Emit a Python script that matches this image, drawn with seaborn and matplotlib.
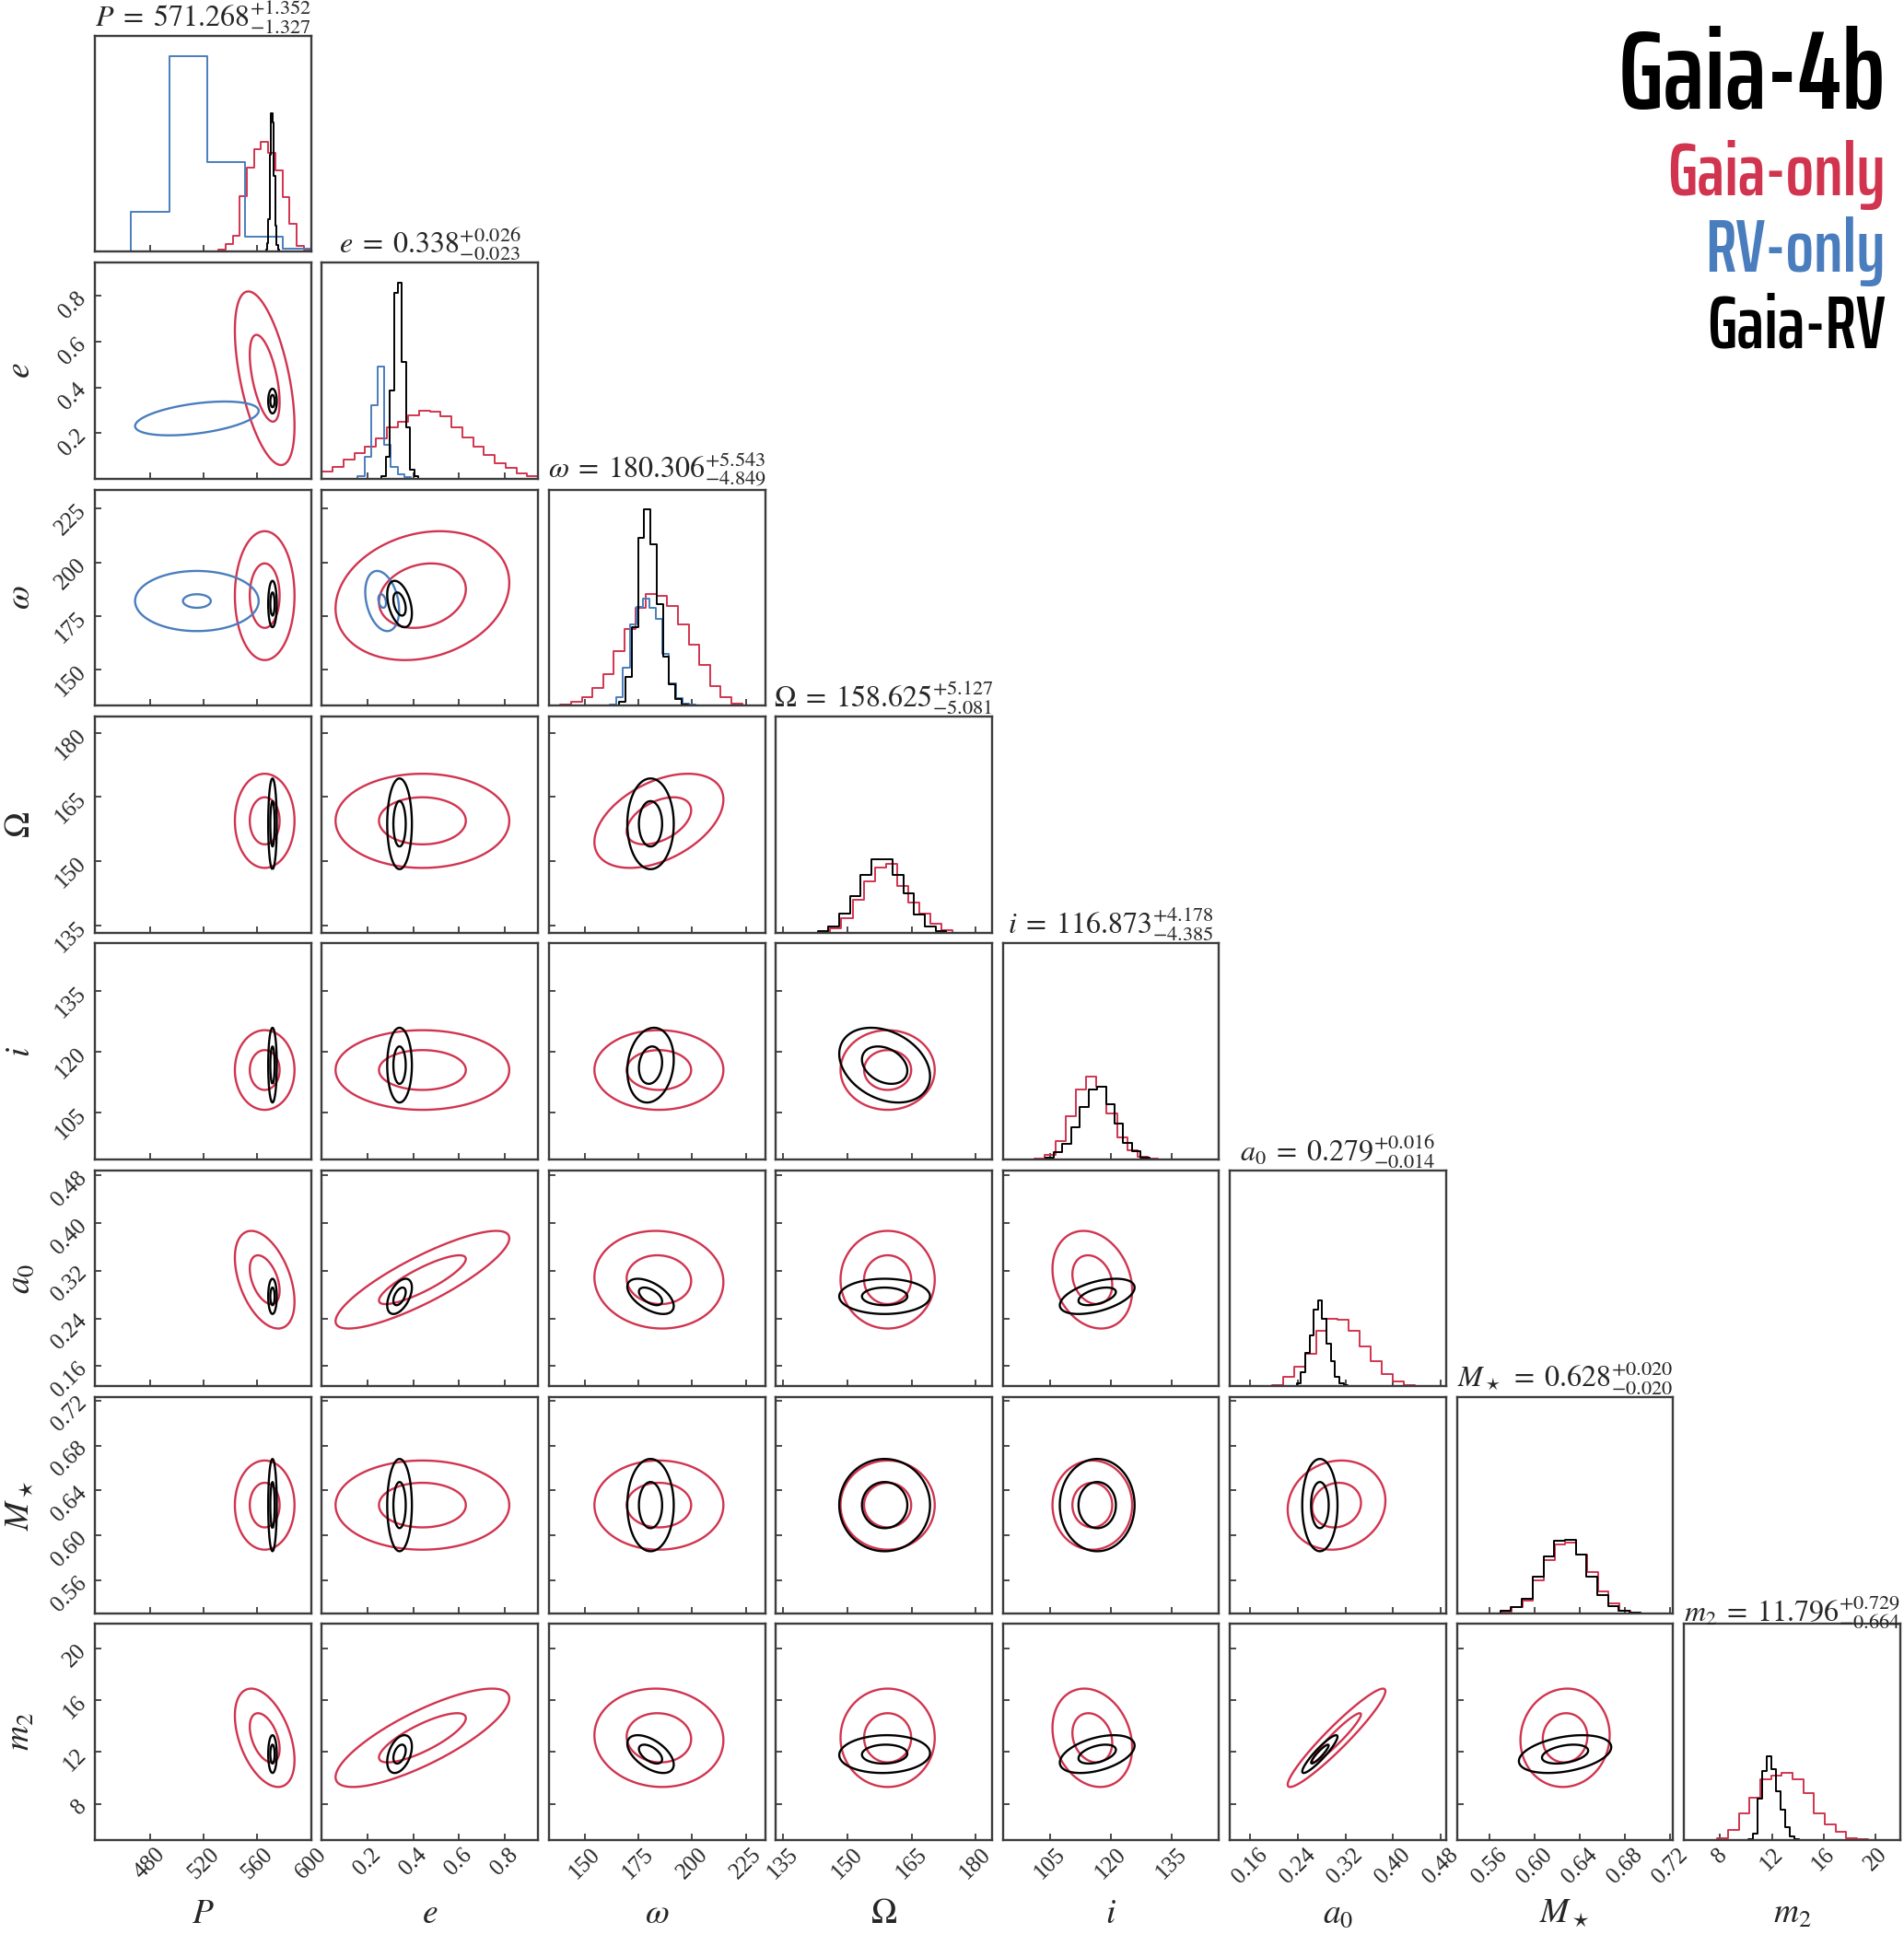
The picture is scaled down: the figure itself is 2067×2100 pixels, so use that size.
import numpy as np
import pandas as pd
import matplotlib
matplotlib.use("Agg")
import matplotlib.pyplot as plt
import seaborn as sns
from matplotlib import font_manager

# ---------------------------------------------------------------- data
PARAMS = ["P", "e", "omega", "Omega", "i", "a0", "Mstar", "m2"]
AXIS_LABELS = [r"$P$", r"$e$", r"$\omega$", r"$\Omega$", r"$i$", r"$a_0$", r"$M_\star$", r"$m_2$"]
TITLE_NAMES = [r"P", r"e", r"\omega", r"\Omega", r"i", r"a_0", r"M_\star", r"m_2"]
MEDIANS = ["571.268", "0.338", "180.306", "158.625", "116.873", "0.279", "0.628", "11.796"]
ERR_PLUS = ["1.352", "0.026", "5.543", "5.127", "4.178", "0.016", "0.020", "0.729"]
ERR_MINUS = ["1.327", "0.023", "4.849", "5.081", "4.385", "0.014", "0.020", "0.664"]

AXIS_MIN = [439.0, 0.0, 133.3, 133.3, 93.5, 0.126, 0.531, 5.2]
AXIS_MAX = [600.0, 0.946, 233.9, 183.8, 146.7, 0.489, 0.723, 21.9]

TICKS = {
    "P": [480, 520, 560, 600],
    "e": [0.2, 0.4, 0.6, 0.8],
    "omega": [150, 175, 200, 225],
    "Omega": [135, 150, 165, 180],
    "i": [105, 120, 135],
    "a0": [0.16, 0.24, 0.32, 0.40, 0.48],
    "Mstar": [0.56, 0.60, 0.64, 0.68, 0.72],
    "m2": [8, 12, 16, 20],
}
TICK_LABELS = {
    "P": ["480", "520", "560", "600"],
    "e": ["0.2", "0.4", "0.6", "0.8"],
    "omega": ["150", "175", "200", "225"],
    "Omega": ["135", "150", "165", "180"],
    "i": ["105", "120", "135"],
    "a0": ["0.16", "0.24", "0.32", "0.40", "0.48"],
    "Mstar": ["0.56", "0.60", "0.64", "0.68", "0.72"],
    "m2": ["8", "12", "16", "20"],
}

# marginal histograms: (first bin edge, last bin edge) and bin heights
RED_HIST_RANGE = {"P": (531.0, 600.0), "e": (0.0, 0.946), "omega": (138.7, 228.2),
                  "Omega": (143.4, 174.6), "i": (101.3, 131.7), "a0": (0.1966, 0.4363),
                  "Mstar": (0.570, 0.6943), "m2": (7.785, 19.405)}
RED_HIST = {
    "P": [0.01, 0.035, 0.075, 0.257, 0.39, 0.475, 0.51, 0.46, 0.376, 0.254, 0.132, 0.026, 0.011],
    "e": [0.033, 0.056, 0.087, 0.117, 0.148, 0.186, 0.239, 0.262, 0.292, 0.315, 0.312, 0.288,
          0.239, 0.193, 0.148, 0.110, 0.072, 0.049, 0.026, 0.011],
    "omega": [0.004, 0.019, 0.04, 0.083, 0.147, 0.251, 0.354, 0.451, 0.515, 0.506, 0.461, 0.375,
              0.282, 0.190, 0.090, 0.040, 0.011, 0.001],
    "Omega": [0.004, 0.018, 0.068, 0.153, 0.238, 0.302, 0.316, 0.217, 0.139, 0.089, 0.04, 0.011],
    "i": [0.004, 0.02, 0.085, 0.2, 0.323, 0.385, 0.335, 0.214, 0.10, 0.043, 0.014, 0.003],
    "a0": [0.007, 0.043, 0.092, 0.149, 0.256, 0.313, 0.31, 0.256, 0.185, 0.114, 0.057, 0.021, 0.007],
    "Mstar": [0.006, 0.026, 0.06, 0.15, 0.245, 0.32, 0.325, 0.272, 0.19, 0.10, 0.045, 0.012, 0.003],
    "m2": [0.01, 0.046, 0.124, 0.196, 0.28, 0.30, 0.31, 0.28, 0.217, 0.124, 0.074, 0.039, 0.01, 0.003],
}
BLUE_HIST_RANGE = {"P": (466.1, 607.1), "e": (0.157, 0.389), "omega": (161.7, 201.5)}
BLUE_HIST = {
    "P": [0.186, 0.906, 0.416, 0.072, 0.015],
    "e": [0.01, 0.10, 0.34, 0.52, 0.155, 0.056, 0.02, 0.008],
    "omega": [0.004, 0.04, 0.175, 0.375, 0.456, 0.496, 0.454, 0.40, 0.24, 0.104, 0.033, 0.01, 0.003],
}
BLACK_HIST_RANGE = {"P": (566.3, 576.3), "e": (0.261, 0.423), "omega": (166.0, 198.0),
                    "Omega": (143.1, 173.1), "i": (103.9, 129.5), "a0": (0.2378, 0.3243),
                    "Mstar": (0.5695, 0.6938), "m2": (10.16, 14.08)}
BLACK_HIST = {
    "P": [0.01, 0.04, 0.15, 0.45, 0.64, 0.60, 0.35, 0.12, 0.03, 0.01],
    "e": [0.01, 0.10, 0.41, 0.86, 0.905, 0.54, 0.24, 0.04, 0.01],
    "omega": [0.019, 0.133, 0.361, 0.775, 0.907, 0.746, 0.471, 0.225, 0.097, 0.029, 0.004],
    "Omega": [0.007, 0.026, 0.089, 0.167, 0.267, 0.338, 0.338, 0.267, 0.18, 0.082, 0.028, 0.008],
    "i": [0.007, 0.033, 0.071, 0.15, 0.242, 0.323, 0.338, 0.256, 0.167, 0.078, 0.036, 0.007],
    "a0": [0.014, 0.064, 0.156, 0.235, 0.356, 0.398, 0.313, 0.199, 0.114, 0.043, 0.014, 0.004],
    "Mstar": [0.009, 0.028, 0.065, 0.167, 0.264, 0.333, 0.340, 0.27, 0.167, 0.082, 0.033, 0.011, 0.004],
    "m2": [0.006, 0.031, 0.19, 0.318, 0.389, 0.33, 0.225, 0.139, 0.06, 0.017, 0.003],
}

# 2-D posterior summaries (centre, spread, correlations)
RED_MEAN = {"P": 565.5, "e": 0.44, "omega": 184.5, "Omega": 159.4, "i": 115.5,
            "a0": 0.305, "Mstar": 0.627, "m2": 13.1}
RED_SIGMA = {"P": 11.1, "e": 0.19, "omega": 15.0, "Omega": 5.5, "i": 4.9,
             "a0": 0.041, "Mstar": 0.0198, "m2": 1.9}
RED_RHO = [("P", "e", -0.55), ("P", "a0", -0.45), ("P", "m2", -0.45),
           ("e", "omega", 0.2), ("e", "a0", 0.85), ("e", "m2", 0.8),
           ("omega", "Omega", 0.45), ("omega", "a0", -0.05), ("omega", "m2", -0.05),
           ("i", "a0", -0.22), ("i", "m2", -0.2), ("a0", "Mstar", 0.1),
           ("a0", "m2", 0.95), ("Mstar", "m2", 0.05)]

BLACK_MEAN = {"P": 571.3, "e": 0.340, "omega": 180.6, "Omega": 158.7, "i": 116.7,
              "a0": 0.277, "Mstar": 0.627, "m2": 11.84}
BLACK_SIGMA = {"P": 1.6, "e": 0.027, "omega": 5.4, "Omega": 5.3, "i": 4.6,
               "a0": 0.0148, "Mstar": 0.0205, "m2": 0.73}
BLACK_RHO = [("e", "omega", -0.4), ("e", "a0", 0.5), ("e", "m2", 0.4),
             ("omega", "i", 0.15), ("omega", "a0", -0.55), ("omega", "m2", -0.55),
             ("Omega", "i", -0.3), ("Omega", "m2", 0.05), ("i", "a0", 0.5),
             ("i", "m2", 0.45), ("a0", "m2", 0.92), ("Mstar", "m2", 0.37)]

BLUE_MEAN = {"P": 515.0, "e": 0.264, "omega": 182.0}
BLUE_SIGMA = {"P": 23.0, "e": 0.037, "omega": 7.0}
BLUE_RHO = [("P", "e", 0.45), ("e", "omega", -0.3)]
BLUE_INNER_PAIRS = [("P", "omega"), ("e", "omega")]

TITLE = "Gaia-4b"
LEGEND_NAMES = ["Gaia-only", "RV-only", "Gaia-RV"]

# ---------------------------------------------------------------- style
RED = "#d1344f"
BLUE = "#4a7dbd"
BLACK = "#000000"
SPINE = "#3c3c3c"

sns.set_theme(style="white")
plt.rcParams["font.family"] = ["Liberation Serif", "DejaVu Serif"]
plt.rcParams["mathtext.fontset"] = "stix"

available = {f.name for f in font_manager.fontManager.ttflist}
COND = [nm for nm in ["Saira ExtraCondensed", "Sofia Sans Extra Condensed",
                      "Barlow Condensed", "Roboto Condensed"] if nm in available]
COND = COND + ["DejaVu Sans"]

fig = plt.figure(figsize=(20.67, 21.0), dpi=100)
n = len(PARAMS)
gs = fig.add_gridspec(n, n, left=0.0498, right=0.998, bottom=0.0486, top=0.9815,
                      wspace=0.05, hspace=0.05)


def rho_of(table, a, b):
    for p, q, r in table:
        if (p == a and q == b) or (p == b and q == a):
            return r
    return 0.0


def draw_contours(ax, xname, yname, mean, sigma, rho_table, color, radii):
    xi, yi = PARAMS.index(xname), PARAMS.index(yname)
    gx = np.linspace(AXIS_MIN[xi], AXIS_MAX[xi], 400)
    gy = np.linspace(AXIS_MIN[yi], AXIS_MAX[yi], 400)
    X, Y = np.meshgrid(gx, gy)
    u = (X - mean[xname]) / sigma[xname]
    v = (Y - mean[yname]) / sigma[yname]
    r = rho_of(rho_table, xname, yname)
    d2 = (u * u - 2 * r * u * v + v * v) / (1 - r * r)
    ax.contour(X, Y, d2, levels=[rr * rr for rr in radii], colors=color, linewidths=1.7)


def draw_hist(ax, lo, hi, heights, color):
    nb = len(heights)
    width = (hi - lo) / nb
    edges = np.linspace(lo - width, hi + width, nb + 3)
    h = np.concatenate([[0.0], heights, [0.0]])
    centers = 0.5 * (edges[:-1] + edges[1:])
    df = pd.DataFrame({"x": centers, "w": h})
    sns.histplot(data=df, x="x", weights="w", binwidth=width,
                 binrange=(lo - width, hi + width), element="step", fill=False,
                 color=color, linewidth=1.4, ax=ax)


def style_axis(ax, row, col):
    for s in ax.spines.values():
        s.set_color(SPINE)
        s.set_linewidth(1.7)
    ax.tick_params(direction="in", length=5, width=1.3, color=SPINE,
                   labelsize=18, top=False, right=False, bottom=True, left=(row != col))
    xname = PARAMS[col]
    ax.set_xticks(TICKS[xname])
    ax.set_xlim(AXIS_MIN[col], AXIS_MAX[col])
    if row == n - 1:
        ax.set_xticklabels(TICK_LABELS[xname], rotation=45)
        ax.set_xlabel(AXIS_LABELS[col], fontsize=27)
        ax.xaxis.set_label_coords(0.5, -0.27)
    else:
        ax.set_xticklabels([])
        ax.set_xlabel("")
    if row != col:
        yname = PARAMS[row]
        ax.set_yticks(TICKS[yname])
        ax.set_ylim(AXIS_MIN[row], AXIS_MAX[row])
        if col == 0:
            ax.set_yticklabels(TICK_LABELS[yname], rotation=45)
            ax.set_ylabel(AXIS_LABELS[row], fontsize=27)
            ax.yaxis.set_label_coords(-0.27, 0.5)
        else:
            ax.set_yticklabels([])
            ax.set_ylabel("")
    else:
        ax.set_yticks([])
        ax.set_ylabel("")
        ax.set_ylim(0, 1.0)


for row in range(n):
    for col in range(row + 1):
        ax = fig.add_subplot(gs[row, col])
        xname = PARAMS[col]
        if row == col:
            if xname in RED_HIST:
                draw_hist(ax, *RED_HIST_RANGE[xname], RED_HIST[xname], RED)
            if xname in BLUE_HIST:
                draw_hist(ax, *BLUE_HIST_RANGE[xname], BLUE_HIST[xname], BLUE)
            if xname in BLACK_HIST:
                draw_hist(ax, *BLACK_HIST_RANGE[xname], BLACK_HIST[xname], BLACK)
            ax.set_title(r"$%s\;=\;%s^{+%s}_{-%s}$" % (TITLE_NAMES[col], MEDIANS[col],
                                                       ERR_PLUS[col], ERR_MINUS[col]),
                         fontsize=23, pad=2)
        else:
            yname = PARAMS[row]
            draw_contours(ax, xname, yname, RED_MEAN, RED_SIGMA, RED_RHO, RED, [1.0, 2.0])
            if xname in BLUE_MEAN and yname in BLUE_MEAN:
                radii = [0.45, 2.0] if (xname, yname) in BLUE_INNER_PAIRS else [2.0]
                draw_contours(ax, xname, yname, BLUE_MEAN, BLUE_SIGMA, BLUE_RHO, BLUE, radii)
            draw_contours(ax, xname, yname, BLACK_MEAN, BLACK_SIGMA, BLACK_RHO, BLACK, [1.0, 2.0])
        style_axis(ax, row, col)

fig.text(0.9905, 0.9438, TITLE, ha="right", va="baseline", fontsize=88,
         fontweight="semibold", family=COND, color=BLACK)
for name, color, y in zip(LEGEND_NAMES, [RED, BLUE, BLACK], [0.899, 0.8596, 0.820]):
    fig.text(0.9905, y, name, ha="right", va="baseline", fontsize=58,
             fontweight="semibold", family=COND, color=color)

fig.savefig("out.png", dpi=100)
